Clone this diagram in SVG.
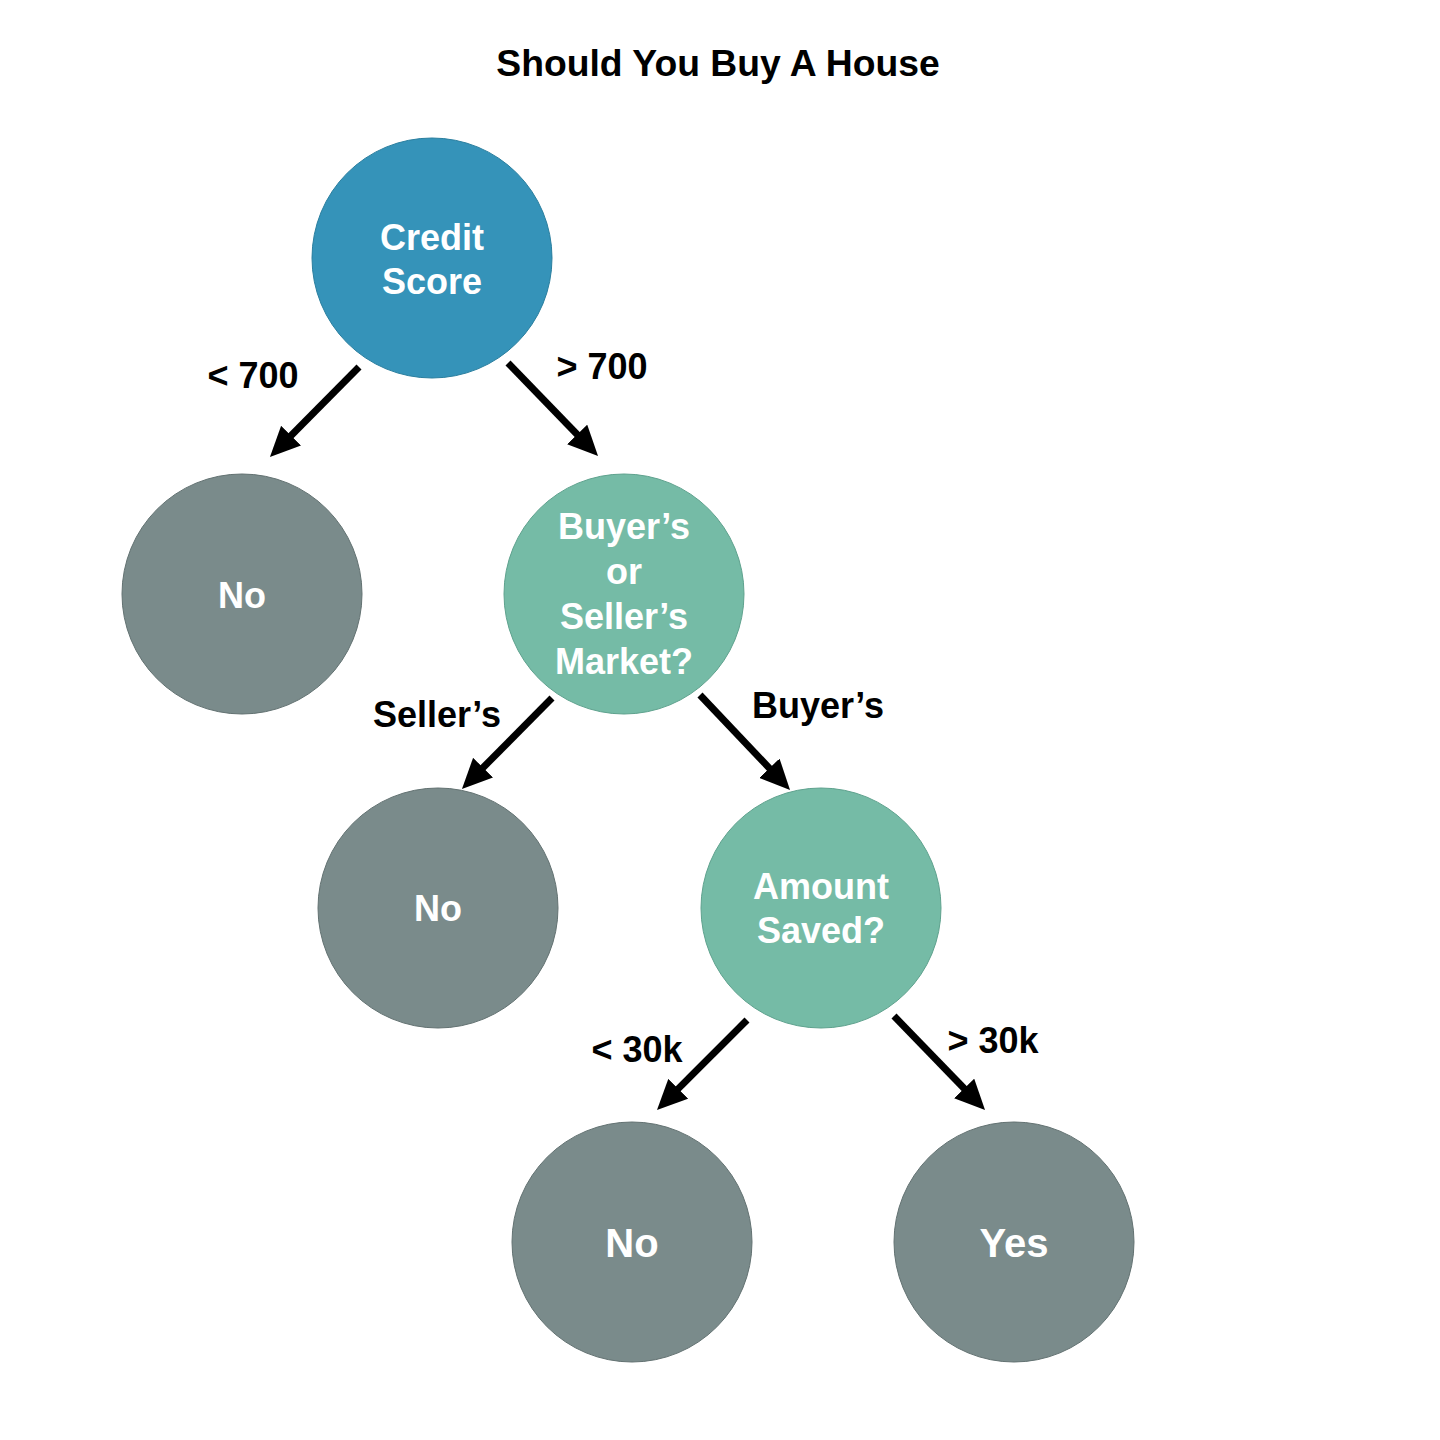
<svg xmlns="http://www.w3.org/2000/svg" width="1440" height="1440" viewBox="0 0 1440 1440">
<defs>
<style>
.t{font-family:"Liberation Sans",Arial,sans-serif;font-weight:bold;text-anchor:middle}
.nt{fill:#ffffff;font-size:36px}
.big{font-size:40px}
.lbl{fill:#000000;font-size:36px}
.ttl{fill:#000000;font-size:37.3px}
.blue{fill:#3593b9;stroke:#2b7f9f;stroke-width:1}
.teal{fill:#75bba6;stroke:#5fa28e;stroke-width:1}
.gray{fill:#7a8b8b;stroke:#637272;stroke-width:1}
.c{stroke:#000000;stroke-width:7;fill:none;marker-end:url(#ah)}
</style>
<marker id="ah" viewBox="0 0 30 28" markerWidth="30" markerHeight="28" markerUnits="userSpaceOnUse" refX="15" refY="14" orient="auto">
<path d="M0,0 L30,14 L0,28 z" fill="#000000"/>
</marker>
</defs>
<rect width="1440" height="1440" fill="#ffffff"/>
<text class="t ttl" x="718" y="76">Should You Buy A House</text>
<g id="connectors">
<line class="c" x1="359" y1="367" x2="280.5" y2="446.3"/>
<line class="c" x1="508" y1="363" x2="587.6" y2="445.2"/>
<line class="c" x1="552" y1="698" x2="472.5" y2="778.3"/>
<line class="c" x1="700" y1="695" x2="779.7" y2="779.1"/>
<line class="c" x1="747" y1="1020" x2="667.6" y2="1099.4"/>
<line class="c" x1="894" y1="1016" x2="974.6" y2="1099.2"/>
<text class="t lbl" x="253" y="388">&lt; 700</text>
<text class="t lbl" x="602" y="379">&gt; 700</text>
<text class="t lbl" x="437" y="727">Seller’s</text>
<text class="t lbl" x="818" y="718">Buyer’s</text>
<text class="t lbl" x="637" y="1062">&lt; 30k</text>
<text class="t lbl" x="993" y="1053">&gt; 30k</text>
</g>
<g id="credit">
<circle class="blue" cx="432" cy="258" r="120"/>
<text class="t nt" x="432" y="250">Credit</text>
<text class="t nt" x="432" y="294">Score</text>
</g>
<g id="no1">
<circle class="gray" cx="242" cy="594" r="120"/>
<text class="t nt" x="242" y="608">No</text>
</g>
<g id="market">
<circle class="teal" cx="624" cy="594" r="120"/>
<text class="t nt" x="624" y="539">Buyer’s</text>
<text class="t nt" x="624" y="584">or</text>
<text class="t nt" x="624" y="629">Seller’s</text>
<text class="t nt" x="624" y="674">Market?</text>
</g>
<g id="no2">
<circle class="gray" cx="438" cy="908" r="120"/>
<text class="t nt" x="438" y="921">No</text>
</g>
<g id="saved">
<circle class="teal" cx="821" cy="908" r="120"/>
<text class="t nt" x="821" y="899">Amount</text>
<text class="t nt" x="821" y="943">Saved?</text>
</g>
<g id="no3">
<circle class="gray" cx="632" cy="1242" r="120"/>
<text class="t nt big" x="632" y="1257">No</text>
</g>
<g id="yes">
<circle class="gray" cx="1014" cy="1242" r="120"/>
<text class="t nt big" x="1014" y="1257">Yes</text>
</g>
</svg>
